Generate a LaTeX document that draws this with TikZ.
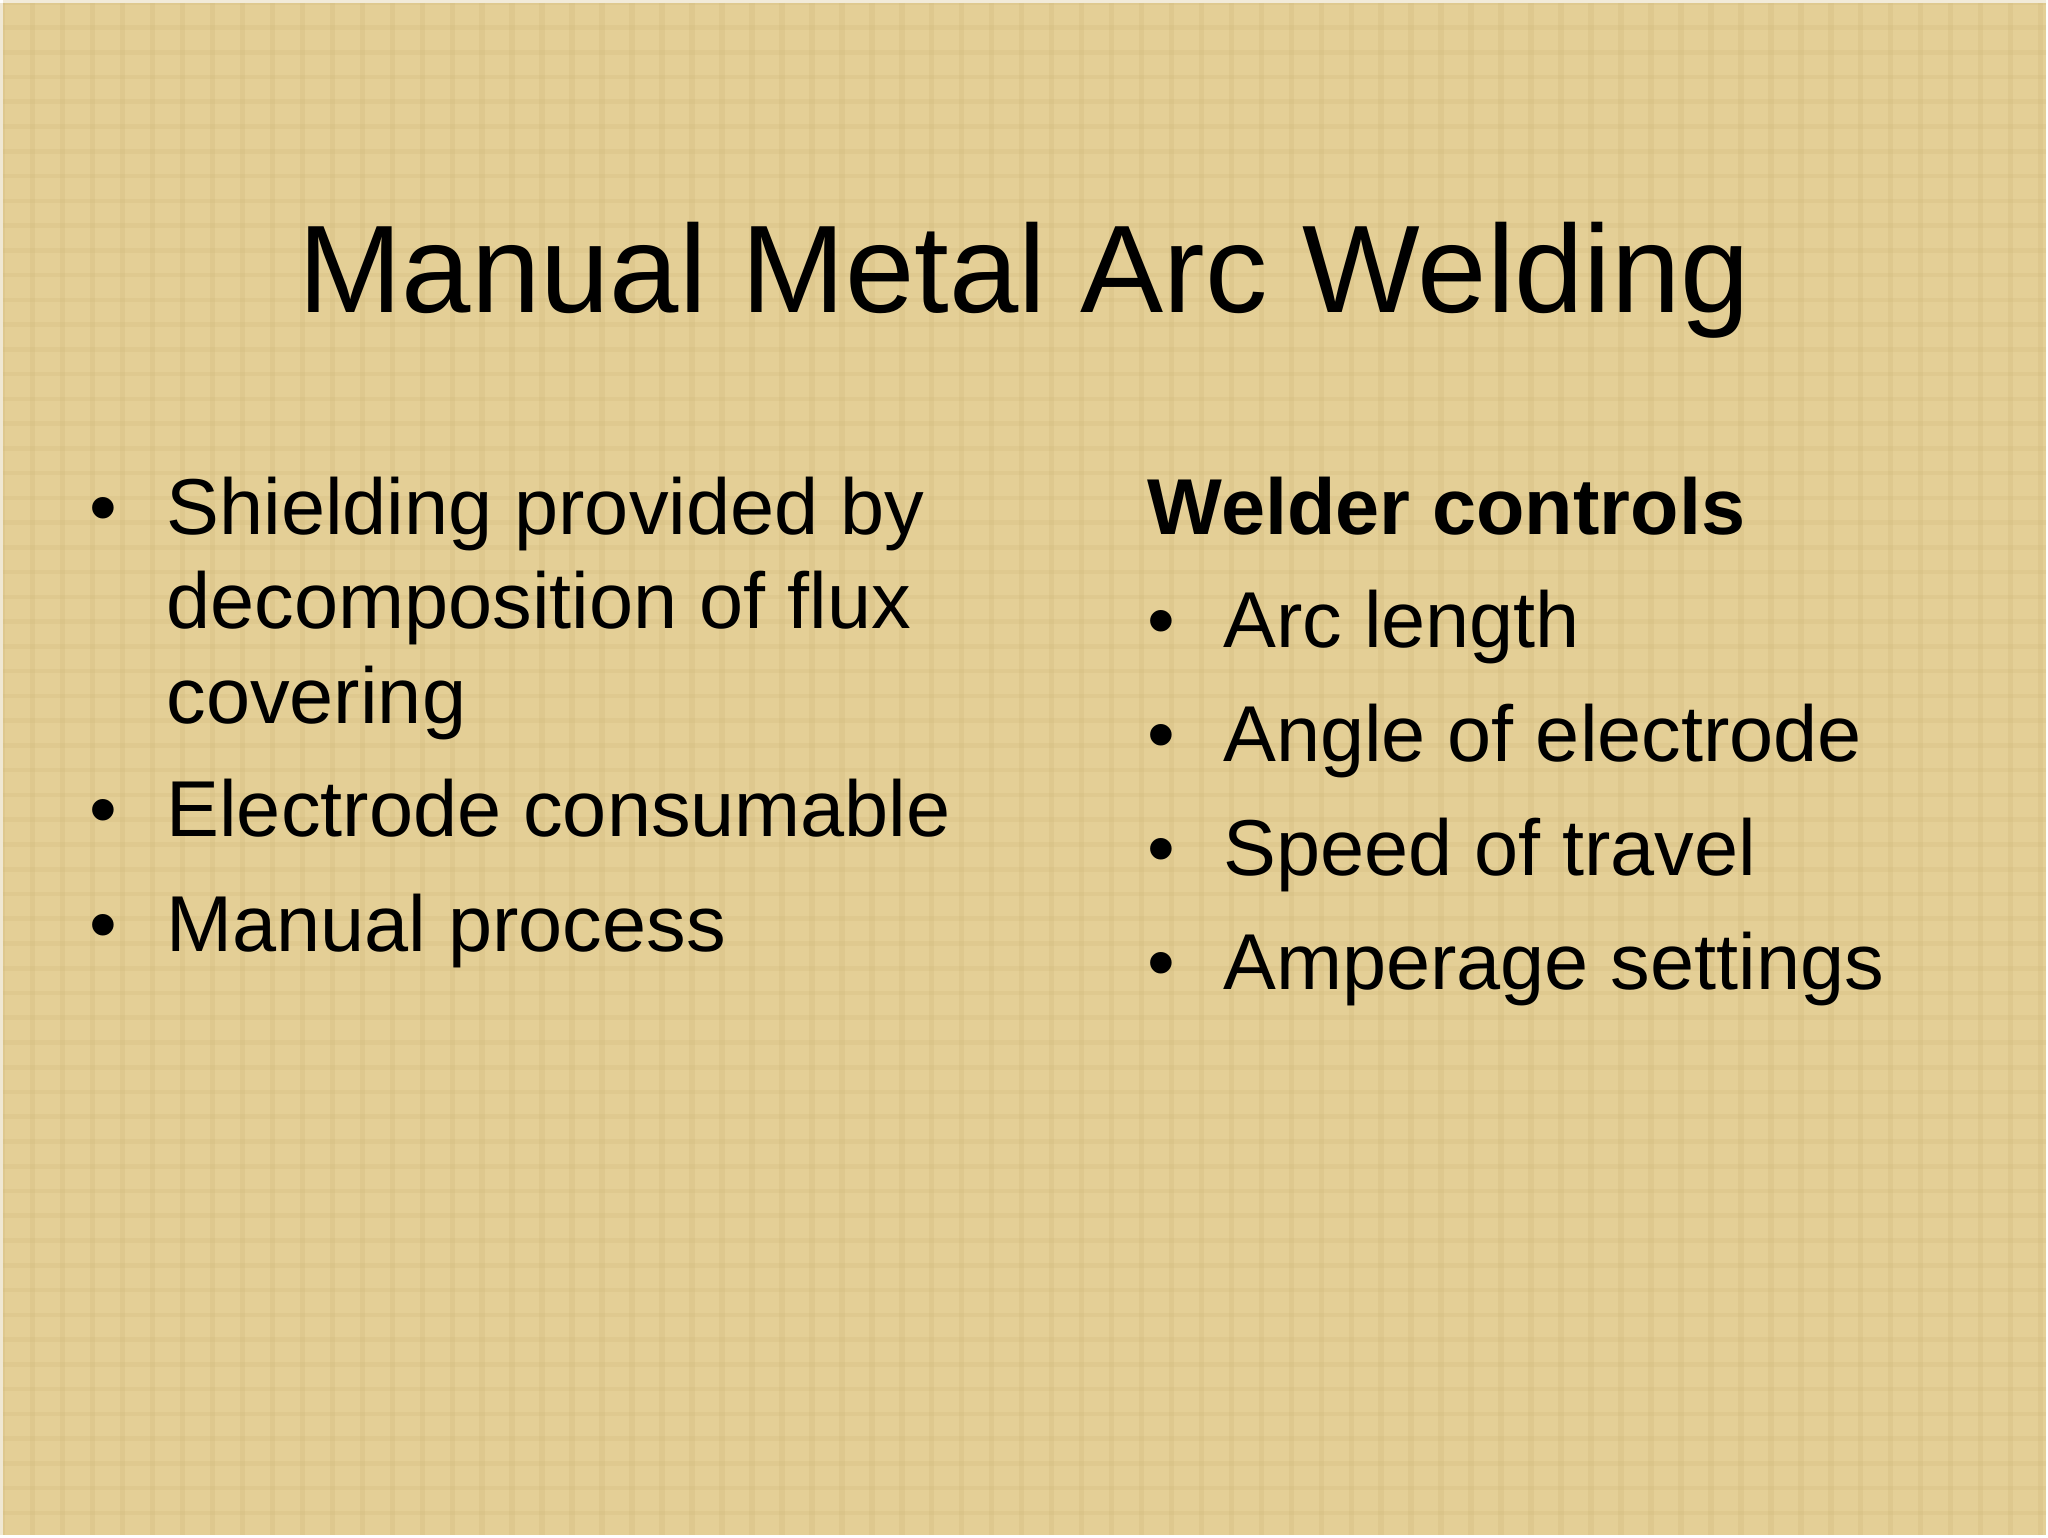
\documentclass[tikz,border=0pt]{standalone}
\usepackage{fontspec}
\setmainfont{Liberation Sans}
\definecolor{bg}{RGB}{228,207,150}
\definecolor{bgline}{RGB}{212,188,128}
\begin{document}
\begin{tikzpicture}[x=0.01cm,y=-0.01cm,
  txt/.style={anchor=base west,inner sep=0pt,font=\fontsize{17.3pt}{20pt}\selectfont},
  bul/.style={anchor=base west,inner sep=0pt,font=\fontsize{17.3pt}{20pt}\selectfont}]
\fill[bg] (0,0) rectangle (1568,1176);
\foreach \i in {0,23,...,1568} \draw[bgline,opacity=0.35,line width=1.2pt] (\i,0) -- (\i,1176);
\foreach \j in {0,19,...,1176} \draw[bgline,opacity=0.3,line width=1pt] (0,\j) -- (1568,\j);
\useasboundingbox (0,0) rectangle (1568,1176);
\node[anchor=base,inner sep=0pt,font=\fontsize{27.2pt}{32pt}\selectfont] (title) at (784,238) {Manual Metal Arc Welding};
\node[bul] (b1) at (66,408) {•};
\node[txt] (l1) at (125,408) {Shielding provided by};
\node[txt] (l1b) at (125,480) {decomposition of flux};
\node[txt] (l1c) at (125,553) {covering};
\node[bul] (b2) at (66,640) {•};
\node[txt] (l2) at (125,640) {Electrode consumable};
\node[bul] (b3) at (66,728) {•};
\node[txt] (l3) at (125,728) {Manual process};
\node[txt,font=\fontsize{17.3pt}{20pt}\selectfont\bfseries] (h) at (878,408) {Welder controls};
\node[bul] (r1b) at (878,495) {•};
\node[txt] (r1) at (936,495) {Arc length};
\node[bul] (r2b) at (878,582) {•};
\node[txt] (r2) at (936,582) {Angle of electrode};
\node[bul] (r3b) at (878,670) {•};
\node[txt] (r3) at (936,670) {Speed of travel};
\node[bul] (r4b) at (878,757) {•};
\node[txt] (r4) at (936,757) {Amperage settings};
\end{tikzpicture}
\end{document}
